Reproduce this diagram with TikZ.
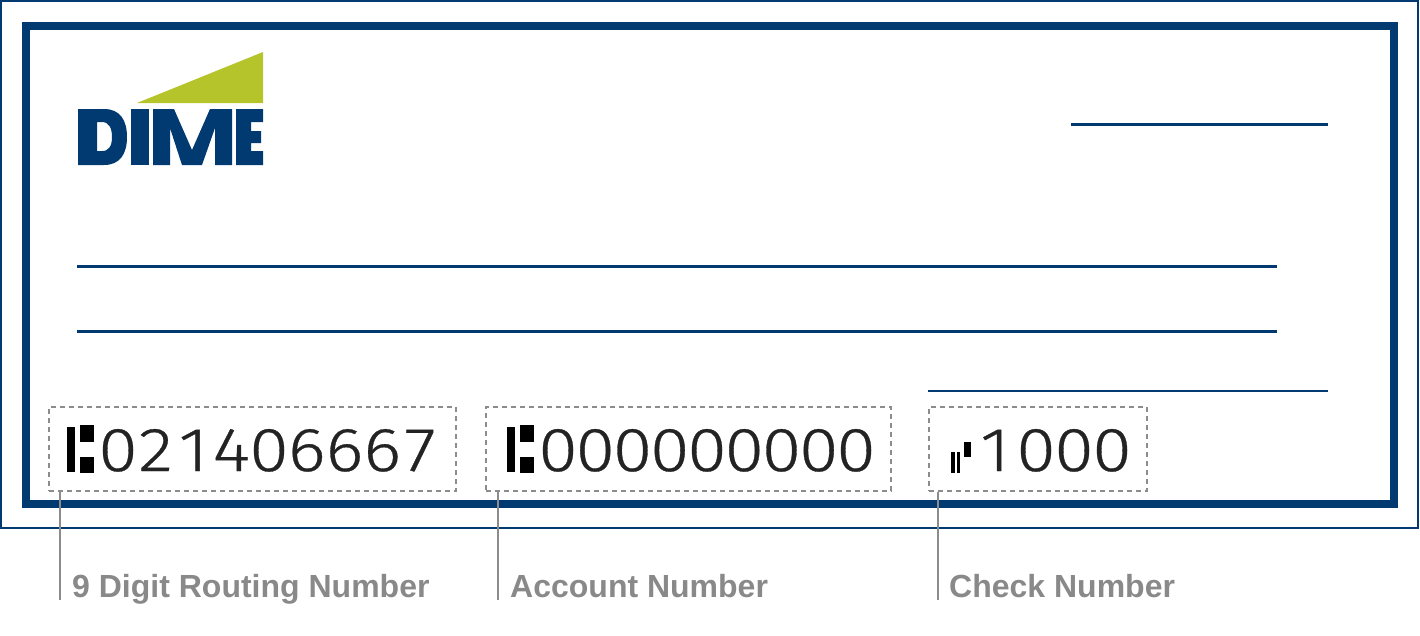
\documentclass[tikz,border=0pt]{standalone}
\usepackage{fontspec}
\setmainfont{Liberation Sans}
\newfontfamily\labelfont{Liberation Sans}
\newfontfamily\digitfont{Fira Sans}[UprightFont=* Light, FakeStretch=1.16, FakeBold=0.5]
\definecolor{navy}{RGB}{0,58,112}
\definecolor{lime}{RGB}{181,196,42}
\definecolor{leadgray}{RGB}{140,140,140}
\definecolor{labgray}{RGB}{137,137,137}
\definecolor{ink}{RGB}{35,35,35}
\tikzset{
  rule/.style={draw=navy, line width=2.6pt},
  fieldbox/.style={draw=leadgray, line width=2pt, dash pattern=on 5pt off 4pt, rectangle, inner sep=0pt},
  leader/.style={draw=leadgray, line width=2.2pt},
  fieldlabel/.style={anchor=base west, inner sep=0pt, text=labgray, font=\labelfont\bfseries\fontsize{32}{38}\selectfont},
  digit/.style={anchor=base, inner sep=0pt, text=ink, font=\digitfont\fontsize{62}{70}\selectfont},
  micr/.style={fill=black},
}
\begin{document}
\begin{tikzpicture}[x=1pt,y=-1pt]
\useasboundingbox (0,0) rectangle (1420,635);
% frames
\draw[navy, line width=2pt] (1,1) rectangle (1418,528);
\draw[navy, line width=8pt] (26,26) rectangle (1394,504);
% logo
\fill[lime] (137,103) -- (263,52) -- (263,103) -- cycle;
\fill[navy, even odd rule] (78,109) -- (104,109) .. controls (120,109) and (127,120) .. (127,137)
  .. controls (127,154) and (120,165) .. (104,165) -- (78,165) -- cycle
  (97,122) -- (102,122) .. controls (109,122) and (112,128) .. (112,137)
  .. controls (112,146) and (109,151) .. (102,151) -- (97,151) -- cycle;
\fill[navy] (131,109) rectangle (149,165);
\fill[navy] (153,165) -- (153,109) -- (174,109) -- (192,150) -- (210,109) -- (232,109) -- (232,165)
  -- (215,165) -- (215,128) -- (202,165) -- (182,165) -- (170,128) -- (170,165) -- cycle;
\fill[navy] (236,109) -- (263,109) -- (263,122) -- (251,122) -- (251,131) -- (261,131) -- (261,143)
  -- (251,143) -- (251,151) -- (263,151) -- (263,165) -- (236,165) -- cycle;
% rules
\draw[rule] (1071,124.7) -- (1328,124.7);
\draw[rule] (77,266.7) -- (1277,266.7);
\draw[rule] (77,331.7) -- (1277,331.7);
\draw[rule] (928,391) -- (1328,391);
% field boxes
\node[fieldbox, minimum width=407pt, minimum height=84pt] (rbox) at (252.5,449) {};
\node[fieldbox, minimum width=405pt, minimum height=84pt] (abox) at (688.5,449) {};
\node[fieldbox, minimum width=218pt, minimum height=84pt] (cbox) at (1038,449) {};
% MICR symbols
\fill[micr] (67,427) rectangle (75,472);
\fill[micr] (80,425) rectangle (94,442);
\fill[micr] (80,457) rectangle (94,473);
\fill[micr] (507,427) rectangle (515,472);
\fill[micr] (520,425) rectangle (534,442);
\fill[micr] (520,457) rectangle (534,473);
\fill[micr] (951,452) rectangle (954.5,473);
\fill[micr] (956.5,452) rectangle (960,473);
\fill[micr] (964,442) rectangle (971,457);
% digits
\foreach \d [count=\i from 0] in {0,2,1,4,0,6,6,6,7}
  \node[digit, name=r\i] at ({118+\i*37.75},471) {\d};
\foreach \d [count=\i from 0] in {0,0,0,0,0,0,0,0,0}
  \node[digit, name=a\i] at ({558+\i*37.25},471) {\d};
\node[digit] (c0) at (995,471) {1};
\foreach \d [count=\i from 1] in {0,0,0}
  \node[digit, name=c\i] at ({998+\i*38},471) {\d};
% leaders
\coordinate (lr) at (60,600);
\coordinate (la) at (498,600);
\coordinate (lc) at (938,600);
\draw[leader] (rbox.south -| lr) -- (lr);
\draw[leader] (abox.south -| la) -- (la);
\draw[leader] (cbox.south -| lc) -- (lc);
% labels
\node[fieldlabel] (tr) at (72,597) {9 Digit Routing Number};
\node[fieldlabel] (ta) at (510,597) {Account Number};
\node[fieldlabel] (tc) at (949,597) {Check Number};
\end{tikzpicture}
\end{document}
